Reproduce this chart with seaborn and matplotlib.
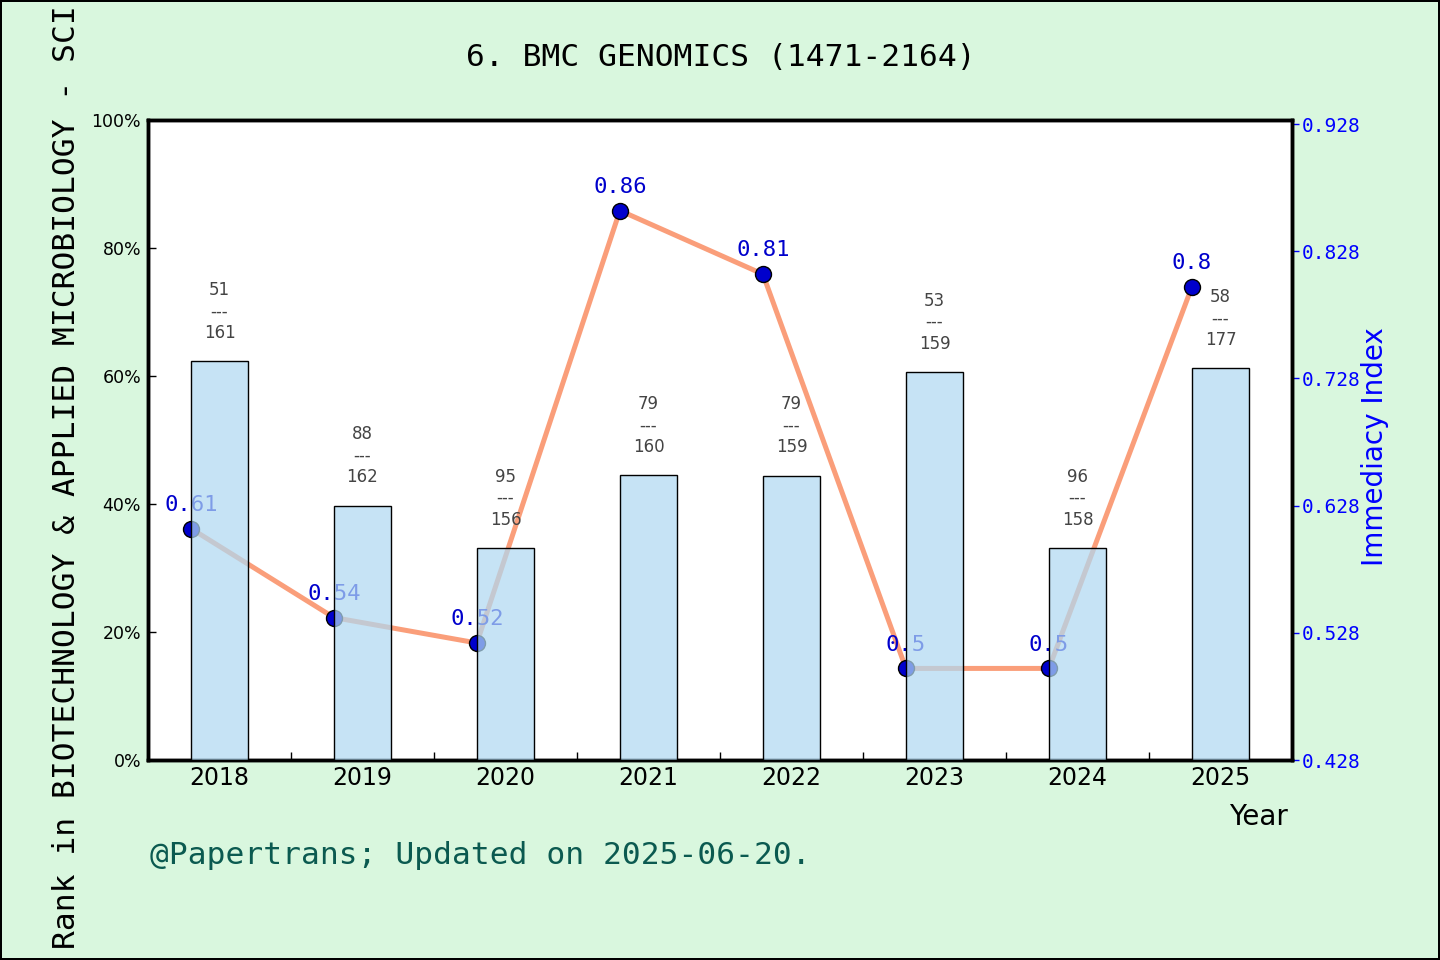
import numpy as np
import pandas as pd
import matplotlib
matplotlib.use('Agg')
import matplotlib.pyplot as plt
import seaborn as sns

years = ['2018', '2019', '2020', '2021', '2022', '2023', '2024', '2025']
rank_pct = [62.3, 39.7, 33.1, 44.5, 44.4, 60.6, 33.1, 61.2]
rank_pos = [51, 88, 95, 79, 79, 53, 96, 58]
rank_total = [161, 162, 156, 160, 159, 159, 158, 177]
immediacy = [0.61, 0.54, 0.52, 0.86, 0.81, 0.5, 0.5, 0.8]
imm_ticks = [0.428, 0.528, 0.628, 0.728, 0.828, 0.928]

sns.set_style('ticks')
plt.rcParams['font.family'] = ['DejaVu Sans']
plt.rcParams['text.color'] = 'black'
plt.rcParams['xtick.color'] = 'black'
plt.rcParams['ytick.color'] = 'black'
mono = 'DejaVu Sans Mono'

df = pd.DataFrame({'Year': years, 'Rank': rank_pct,
                   'pos': np.arange(len(years)) - 0.2, 'IF': immediacy})

fig = plt.figure(figsize=(14.4, 9.6), dpi=100)
fig.patch.set_facecolor('#d9f7de')
fig.patch.set_edgecolor('black')
fig.patch.set_linewidth(1.5)
ax = fig.add_axes([148/1440, 1-760/960, (1292-148)/1440, 640/960])
ax.set_facecolor('white')
ax2 = ax.twinx()

# line (immediacy index), drawn underneath the bars
sns.lineplot(data=df, x='pos', y='IF', ax=ax, color='#fa9e7a', lw=3.6,
             marker='o', markersize=11.5, markerfacecolor='#0000cc',
             markeredgecolor='black', markeredgewidth=1, zorder=2)
for x, v in zip(df['pos'], immediacy):
    ax.annotate(f'{v:g}', (x, v), xytext=(0, 10), textcoords='offset points',
                ha='center', va='bottom', color='#0000cc', fontsize=16,
                family=mono)
ax.set_ylim(0.428, 0.9312)
ax.set_yticks(imm_ticks)
ax.set_yticklabels([f'{t:.3f}' for t in imm_ticks], family=mono)
ax.set_ylabel('')
ax.set_xlabel('')

# bars (rank), on top
sns.barplot(data=df, x='Year', y='Rank', ax=ax2, width=0.4,
            color=(0.69, 0.85, 0.95), edgecolor='black',
            linewidth=1, saturation=1, zorder=3)
for p in ax2.patches:
    p.set_alpha(None)
    p.set_facecolor((0.69, 0.85, 0.95, 0.72))
    p.set_edgecolor('black')
for i, (h, p, t) in enumerate(zip(rank_pct, rank_pos, rank_total)):
    ax2.annotate(f'{p}\n---\n{t}', (i, h), xytext=(0, 14),
                 textcoords='offset points', ha='center', va='bottom',
                 color='#444444', fontsize=12, linespacing=1.25)
ax2.set_ylim(0, 100)
ax2.set_yticks(range(0, 101, 20))
ax2.set_yticklabels([f'{t}%' for t in range(0, 101, 20)])
ax2.set_ylabel('')
ax2.set_xlabel('')

# swap sides: percent on the left, index on the right
ax.yaxis.tick_right()
ax2.yaxis.tick_left()
ax.tick_params(axis='y', colors='blue', labelsize=14, direction='out',
               length=5, width=1, labelcolor='blue', pad=2)
ax2.tick_params(axis='y', direction='in', length=6, width=1, labelsize=12.5,
                colors='black', pad=5)

ax.set_xlim(-0.5, len(years) - 0.5)
ax.set_xticks(range(len(years)))
ax.set_xticklabels(years, fontsize=17)
ax.set_xticks(np.arange(0.5, len(years) - 1, 1), minor=True)
ax.tick_params(axis='x', which='major', length=0, pad=4)
ax.tick_params(axis='x', which='minor', direction='in', length=6, width=1)
ax2.set_xlim(-0.5, len(years) - 0.5)

for a in (ax, ax2):
    for s in a.spines.values():
        s.set_visible(True)
        s.set_color('black')
        s.set_linewidth(2.5)

fig.text(721/1440, 1-57/960, '6. BMC GENOMICS (1471-2164)', ha='center',
         va='center', fontsize=22.5, family=mono)
fig.text(67/1440, 1-477/960, 'Rank in BIOTECHNOLOGY & APPLIED MICROBIOLOGY - SCI',
         rotation=90, ha='center', va='center', fontsize=22.5, family=mono)
fig.text(1375/1440, 1-447/960, 'Immediacy Index', rotation=90, ha='center',
         va='center', fontsize=20, color='blue')
fig.text(1288/1440, 1-817/960, 'Year', ha='right', va='center', fontsize=20)
fig.text(150/1440, 1-855/960, '@Papertrans; Updated on 2025-06-20.',
         ha='left', va='center', fontsize=22.5, family=mono, color='#0b5a50')

fig.savefig('out.png', dpi=100, facecolor=fig.get_facecolor(),
            edgecolor=fig.get_edgecolor())
